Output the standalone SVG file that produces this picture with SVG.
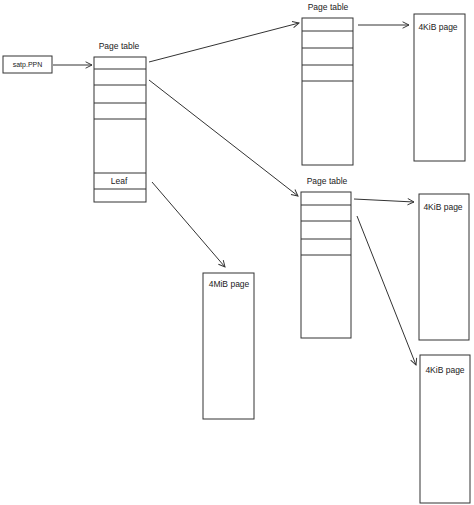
<svg xmlns="http://www.w3.org/2000/svg" width="474" height="505" viewBox="0 0 474 505">
<style>
.box{fill:#fff;stroke:#333;stroke-width:1}
.row{stroke:#333;stroke-width:1}
.lbl{font-family:"Liberation Sans",Arial,sans-serif;font-size:8.5px;fill:#222;text-anchor:middle}
.small{font-size:7px}
.conn{stroke:#333;stroke-width:1;fill:none;marker-end:url(#arr)}
</style>
<defs>
<marker id="arr" viewBox="0 0 10 10" refX="9" refY="5" markerWidth="8" markerHeight="8" orient="auto" markerUnits="userSpaceOnUse">
<path d="M1,1 L9,5 L1,9" fill="none" stroke="#333" stroke-width="1.2"/>
</marker>
</defs>
<rect width="474" height="505" fill="#fff"/>
<g id="satp">
<rect class="box" x="3" y="56" width="49" height="17"/>
<text class="lbl small" x="27.5" y="67">satp.PPN</text>
</g>
<g id="pt1">
<text class="lbl" x="119" y="49">Page table</text>
<rect class="box" x="94" y="57" width="52" height="145"/>
<line class="row" x1="94" y1="69" x2="146" y2="69"/>
<line class="row" x1="94" y1="85" x2="146" y2="85"/>
<line class="row" x1="94" y1="103" x2="146" y2="103"/>
<line class="row" x1="94" y1="119" x2="146" y2="119"/>
<line class="row" x1="94" y1="173" x2="146" y2="173"/>
<line class="row" x1="94" y1="189" x2="146" y2="189"/>
<text class="lbl" x="119" y="184">Leaf</text>
</g>
<g id="pt2">
<text class="lbl" x="328" y="10">Page table</text>
<rect class="box" x="302" y="18" width="51" height="147"/>
<line class="row" x1="302" y1="31" x2="353" y2="31"/>
<line class="row" x1="302" y1="48" x2="353" y2="48"/>
<line class="row" x1="302" y1="65" x2="353" y2="65"/>
<line class="row" x1="302" y1="81" x2="353" y2="81"/>
</g>
<g id="page4k1">
<rect class="box" x="414" y="14" width="51" height="147"/>
<text class="lbl" x="438" y="30">4KiB page</text>
</g>
<g id="pt3">
<text class="lbl" x="327" y="184">Page table</text>
<rect class="box" x="301" y="192" width="50" height="146"/>
<line class="row" x1="301" y1="205" x2="351" y2="205"/>
<line class="row" x1="301" y1="221" x2="351" y2="221"/>
<line class="row" x1="301" y1="239" x2="351" y2="239"/>
<line class="row" x1="301" y1="255" x2="351" y2="255"/>
</g>
<g id="page4k2">
<rect class="box" x="419" y="194" width="50" height="146"/>
<text class="lbl" x="443" y="210">4KiB page</text>
</g>
<g id="page4k3">
<rect class="box" x="420" y="355" width="50" height="148"/>
<text class="lbl" x="445" y="373">4KiB page</text>
</g>
<g id="page4m">
<rect class="box" x="203" y="273" width="51" height="146"/>
<text class="lbl" x="229" y="287">4MiB page</text>
</g>
<g id="connectors">
<line class="conn" x1="53" y1="65" x2="92" y2="65"/>
<line class="conn" x1="149" y1="62" x2="299" y2="23"/>
<line class="conn" x1="149" y1="80" x2="298" y2="196"/>
<line class="conn" x1="152" y1="182" x2="225" y2="267"/>
<line class="conn" x1="358" y1="25" x2="409" y2="25"/>
<line class="conn" x1="354" y1="199" x2="414" y2="202"/>
<line class="conn" x1="357" y1="216" x2="416" y2="365"/>
</g>
</svg>
